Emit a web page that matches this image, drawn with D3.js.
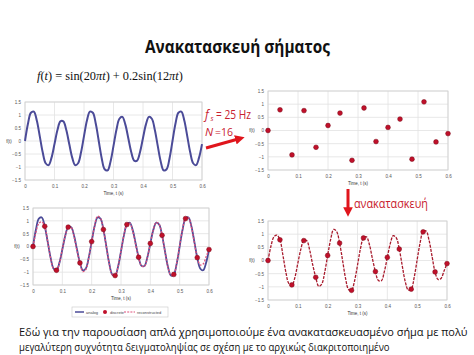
<!DOCTYPE html>
<html><head><meta charset="utf-8">
<script src="https://cdn.jsdelivr.net/npm/d3@7"></script>
<style>body{margin:0;background:#fff}svg{display:block}</style>
</head><body><svg id="c" width="474" height="355"></svg>
<script>
// ---- data ----
const timeTicks = [0, 0.1, 0.2, 0.3, 0.4, 0.5, 0.6];
const valueTicks = [-1.5, -1, -0.5, 0, 0.5, 1, 1.5];
const curveStep = 0.01; // analog / reconstructed curves read every 0.01 s
const analogValues = [0,0.661,1.088,1.132,0.787,0.190,-0.434,-0.855,-0.926,-0.638,
  -0.118,0.419,0.755,0.755,0.419,-0.118,-0.638,-0.926,-0.855,-0.434,
  0.190,0.787,1.132,1.088,0.661,0,-0.661,-1.088,-1.132,-0.787,
  -0.190,0.434,0.855,0.926,0.638,0.118,-0.419,-0.755,-0.755,-0.419,
  0.118,0.638,0.926,0.855,0.434,-0.190,-0.787,-1.132,-1.088,-0.661,
  0,0.661,1.088,1.132,0.787,0.190,-0.434,-0.855,-0.926,-0.638,-0.118];
const reconValues = [0,0.55,0.90,0.96,0.787,0.20,-0.45,-0.88,-0.95,-0.65,
  -0.10,0.42,0.77,0.75,0.38,-0.17,-0.638,-0.98,-0.90,-0.45,
  0.19,0.80,1.18,1.10,0.661,0.0,-0.68,-1.10,-1.13,-0.78,
  -0.18,0.45,0.855,0.90,0.60,0.07,-0.419,-0.76,-0.77,-0.42,
  0.118,0.65,0.94,0.86,0.434,-0.20,-0.80,-1.12,-1.088,-0.64,
  0.03,0.68,1.10,1.12,0.76,0.15,-0.434,-0.72,-0.68,-0.40,-0.118];
const sampleTimes = [0,0.04,0.08,0.12,0.16,0.20,0.24,0.28,0.32,0.36,0.40,0.44,0.48,0.52,0.56,0.60];
const sampleValues = [0,0.787,-0.926,0.755,-0.638,0.190,0.661,-1.132,0.855,-0.419,0.118,0.434,-1.088,1.088,-0.434,-0.118];
const legendLabels = ["analog", "discrete", "reconstructed"];

const analog = analogValues.map((v,i)=>({t:i*curveStep, v}));
const recon = reconValues.map((v,i)=>({t:i*curveStep, v}));
const samples = sampleTimes.map((t,i)=>({t, v:sampleValues[i]}));

const svg = d3.select("#c");
const FONT = "'Open Sans', 'Noto Sans', sans-serif";
const SMALL = "'Liberation Sans', Arial, sans-serif";
const RED = "#c8202e";

// place a text at (x,y) and squeeze it horizontally to width w
function fit(sel, x, y, w){
  const L = sel.node().getComputedTextLength();
  const k = w / L;
  sel.attr("x",0).attr("y",0).attr("transform",`translate(${x},${y}) scale(${k},1)`);
  return sel;
}

// title & formula
fit(svg.append("text").attr("font-family",FONT).attr("font-weight","bold").attr("font-size",18)
  .attr("fill","#111").text("Ανακατασκευή σήματος"), 145, 53, 185);

const fx = svg.append("text")
  .attr("font-family","'Liberation Serif', 'DejaVu Serif', serif").attr("font-size",12.5).attr("fill","#111");
fx.append("tspan").attr("font-style","italic").text("f");
fx.append("tspan").text("(");
fx.append("tspan").attr("font-style","italic").text("t");
fx.append("tspan").text(") = sin(20");
fx.append("tspan").attr("font-style","italic").text("πt");
fx.append("tspan").text(") + 0.2sin(12");
fx.append("tspan").attr("font-style","italic").text("πt");
fx.append("tspan").text(")");
fit(fx, 37, 80, 146);

function panel(cfg){
  const g = svg.append("g");
  const x = d3.scaleLinear().domain([0,0.6]).range([cfg.x0,cfg.x1]);
  const y = d3.scaleLinear().domain([-1.5,1.5]).range([cfg.y1,cfg.y0]);
  g.append("g").selectAll("line").data(valueTicks).join("line")
    .attr("x1",cfg.x0).attr("x2",cfg.x1).attr("y1",d=>y(d)).attr("y2",d=>y(d))
    .attr("stroke","#e2e2e2").attr("stroke-width",0.8);
  g.append("g").selectAll("line").data(timeTicks).join("line")
    .attr("y1",cfg.y0).attr("y2",cfg.y1).attr("x1",d=>x(d)).attr("x2",d=>x(d))
    .attr("stroke","#e2e2e2").attr("stroke-width",0.8);
  g.append("rect").attr("x",cfg.x0).attr("y",cfg.y0).attr("width",cfg.x1-cfg.x0).attr("height",cfg.y1-cfg.y0)
    .attr("fill","none").attr("stroke","#cfcfcf").attr("stroke-width",0.8);
  const ax = g.append("g").attr("transform",`translate(0,${cfg.y1})`)
    .call(d3.axisBottom(x).tickValues(timeTicks).tickSize(0).tickPadding(5).tickFormat(d3.format("")));
  const ay = g.append("g").attr("transform",`translate(${cfg.x0},0)`)
    .call(d3.axisLeft(y).tickValues(valueTicks).tickSize(0).tickPadding(4).tickFormat(d3.format("")));
  [ax,ay].forEach(a=>{a.select(".domain").remove();
    a.selectAll("text").attr("font-family",SMALL).attr("font-size",4.5).attr("fill","#555");});
  g.append("text").attr("x",(cfg.x0+cfg.x1)/2).attr("y",cfg.y1+15).attr("text-anchor","middle")
    .attr("font-family",SMALL).attr("font-size",4.5).attr("fill","#333")
    .text("Time, t (s)");
  g.append("text").attr("x",cfg.x0-16).attr("y",y(0)+1.5).attr("text-anchor","middle")
    .attr("font-family",SMALL).attr("font-size",4.5).attr("fill","#333")
    .text("f(t)");
  const line = d3.line().x(d=>x(d.t)).y(d=>y(d.v)).curve(d3.curveCatmullRom.alpha(0.5));
  if(cfg.analog) g.append("path").attr("d",line(analog)).attr("fill","none")
    .attr("stroke","#4b4b98").attr("stroke-width",cfg.analogW||1.8);
  if(cfg.recon) g.append("path").attr("d",line(recon)).attr("fill","none")
    .attr("stroke",cfg.reconColor).attr("stroke-width",1.3).attr("stroke-dasharray",cfg.reconDash);
  if(cfg.samples) g.append("g").selectAll("circle").data(samples).join("circle")
    .attr("cx",d=>x(d.t)).attr("cy",d=>y(d.v)).attr("r",2.4)
    .attr("fill","#c0102a").attr("stroke","#7a0a18").attr("stroke-width",0.5);
}

panel({x0:25,x1:202,y0:102,y1:180,analog:true,analogW:2});
panel({x0:268,x1:448,y0:91,y1:170,samples:true});
panel({x0:33,x1:209,y0:208,y1:285,analog:true,analogW:1.8,recon:true,reconColor:"#e0507a",reconDash:"2,1.5",samples:true});
panel({x0:268,x1:447,y0:221,y1:300,recon:true,reconColor:"#a81a2c",reconDash:"3,1.2",samples:true});

// legend of bottom-left panel
const lg = svg.append("g");
lg.append("rect").attr("x",72).attr("y",307).attr("width",96).attr("height",10)
  .attr("fill","#fff").attr("stroke","#c8c8c8").attr("stroke-width",0.6);
lg.append("line").attr("x1",75).attr("x2",84).attr("y1",312).attr("y2",312).attr("stroke","#4b4b98").attr("stroke-width",1.5);
lg.append("circle").attr("cx",105).attr("cy",312).attr("r",2).attr("fill","#c0102a");
lg.append("line").attr("x1",124).attr("x2",135).attr("y1",312).attr("y2",312).attr("stroke","#e0507a").attr("stroke-width",1.2).attr("stroke-dasharray","2,1.2");
[[86,0],[110,1],[137,2]].forEach(([lx,i])=>lg.append("text").attr("x",lx).attr("y",313.5)
  .attr("font-family",SMALL).attr("font-size",4).attr("fill","#444").text(legendLabels[i]));

// annotations
const defs = svg.append("defs");
defs.append("marker").attr("id","ah").attr("viewBox","0 0 10 10").attr("refX",5).attr("refY",5)
  .attr("markerWidth",3.2).attr("markerHeight",3.2).attr("orient","auto")
  .append("path").attr("d","M0,0 L10,5 L0,10 Z").attr("fill","#e0151c");
svg.append("text").attr("x",205).attr("y",119).attr("font-family",FONT).attr("font-size",12)
  .attr("font-style","italic").attr("fill",RED).text("f");
svg.append("text").attr("x",210.5).attr("y",121).attr("font-family",FONT).attr("font-size",7)
  .attr("font-style","italic").attr("fill",RED).text("s");
fit(svg.append("text").attr("font-family",FONT).attr("font-size",12).attr("fill",RED).text("= 25 Hz"), 216, 119, 35);
svg.append("text").attr("x",205).attr("y",136).attr("font-family",FONT).attr("font-size",11.5)
  .attr("font-style","italic").attr("fill",RED).text("N");
fit(svg.append("text").attr("font-family",FONT).attr("font-size",11.5).attr("fill",RED).text("=16"), 215, 136, 18);
svg.append("line").attr("x1",206).attr("y1",148).attr("x2",240).attr("y2",138.5)
  .attr("stroke","#e0151c").attr("stroke-width",3).attr("marker-end","url(#ah)");
svg.append("line").attr("x1",348).attr("y1",189).attr("x2",348).attr("y2",212)
  .attr("stroke","#e0151c").attr("stroke-width",3).attr("marker-end","url(#ah)");
fit(svg.append("text").attr("font-family",FONT).attr("font-size",12.5).attr("fill",RED).text("ανακατασκευή"), 354, 208, 74);

// caption
fit(svg.append("text").attr("font-family",FONT).attr("font-size",11).attr("fill","#111")
  .text("Εδώ για την παρουσίαση απλά χρησιμοποιούμε ένα  ανακατασκευασμένο σήμα με πολύ"), 19, 336, 449);
fit(svg.append("text").attr("font-family",FONT).attr("font-size",11).attr("fill","#111")
  .text("μεγαλύτερη συχνότητα δειγματοληψίας σε σχέση με το αρχικώς διακριτοποιημένο"), 19, 351, 371);
</script></body></html>
